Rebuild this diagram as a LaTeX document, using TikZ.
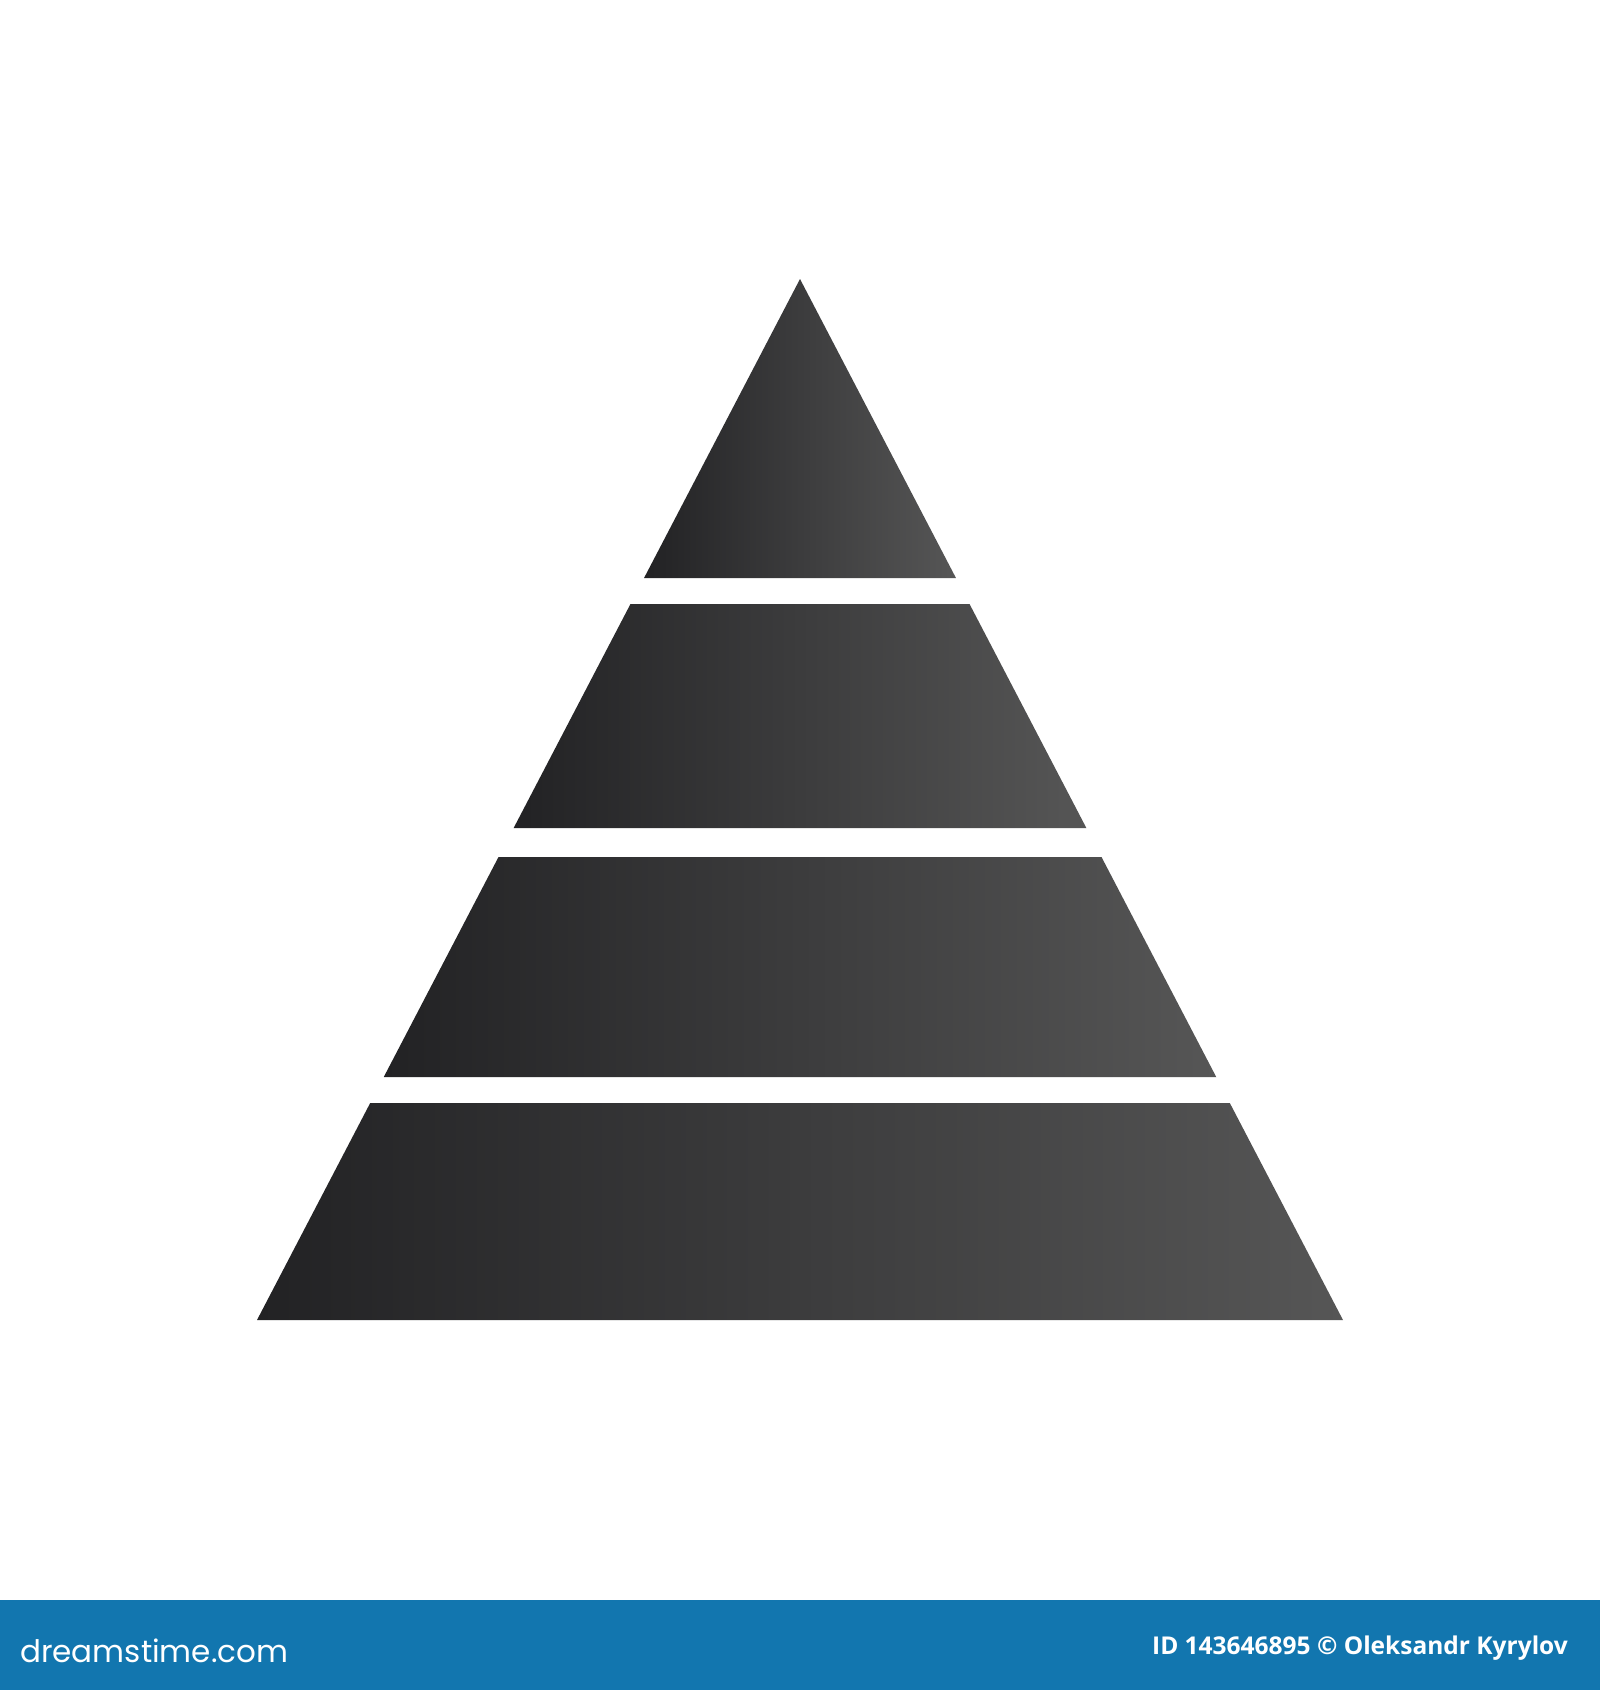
\documentclass[tikz,border=0pt]{standalone}
\usepackage{fontspec}
\newfontfamily\logofont{Poppins}
\newfontfamily\creditfont{Open Sans}
\definecolor{slicedark}{RGB}{34,34,36}
\definecolor{slicelight}{RGB}{86,86,86}
\definecolor{footerblue}{RGB}{18,118,175}
\begin{document}
\begin{tikzpicture}[x=1pt,y=-1pt,
  slice/.style={left color=slicedark,right color=slicelight,shading angle=90},
  footertext/.style={text=white,inner sep=0pt}]
\useasboundingbox (0,0) rectangle (1600,1690);
\fill[white] (0,0) rectangle (1600,1690);
% pyramid: apex (800,279), half width = 0.5216*(y-279)
\def\hw#1{0.5216*(#1-279)}
\shade[slice] (800,279) -- ({800+\hw{578}},578) -- ({800-\hw{578}},578) -- cycle;
\shade[slice] ({800-\hw{604}},604) -- ({800+\hw{604}},604) -- ({800+\hw{828}},828) -- ({800-\hw{828}},828) -- cycle;
\shade[slice] ({800-\hw{857}},857) -- ({800+\hw{857}},857) -- ({800+\hw{1077}},1077) -- ({800-\hw{1077}},1077) -- cycle;
\shade[slice] ({800-\hw{1103}},1103) -- ({800+\hw{1103}},1103) -- ({800+\hw{1320}},1320) -- ({800-\hw{1320}},1320) -- cycle;
% footer
\fill[footerblue] (0,1600) rectangle (1600,1690);
\node[footertext,anchor=base west,font=\logofont\fontsize{31}{31}\selectfont] (logo) at (20,1662) {dreamstime.com};
\node[footertext,anchor=base east,font=\creditfont\bfseries\fontsize{24.5}{24.5}\selectfont] (credit) at (1568,1654) {ID 143646895 © Oleksandr Kyrylov};
\end{tikzpicture}
\end{document}
